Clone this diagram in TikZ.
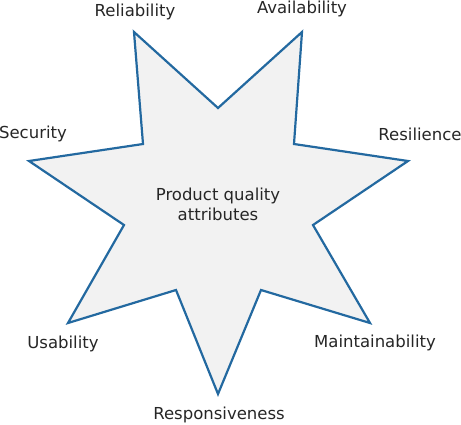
\documentclass[tikz,border=0pt]{standalone}
\usepackage{fontspec}
\setmainfont{DejaVu Sans}
\usetikzlibrary{positioning}
\definecolor{starblue}{RGB}{35,105,160}
\definecolor{stargray}{RGB}{242,242,242}
\tikzset{attr/.style={
        font=\fontsize{16.5}{20}\selectfont,
        text=black!85,
        inner sep=0pt },
    starshape/.style={
        draw=starblue,
        fill=stargray,
        line width=2.2pt,
        line join=miter } }

\begin{document}
\begin{tikzpicture}[x=1pt,y=-1pt]
\useasboundingbox (0,0) rectangle (461,424);

% tips and inner corners of the star
\coordinate (tip_rel) at (134,32);
\coordinate (in_top) at (218,108);
\coordinate (tip_ava) at (302,32);
\coordinate (in_ur) at (294,144);
\coordinate (tip_res) at (408,161);
\coordinate (in_r) at (313,225);
\coordinate (tip_mai) at (370,323);
\coordinate (in_lr) at (261,290);
\coordinate (tip_rsp) at (218,394);
\coordinate (in_ll) at (176,290);
\coordinate (tip_usa) at (68,323);
\coordinate (in_l) at (124,225);
\coordinate (tip_sec) at (29,161);
\coordinate (in_ul) at (143,144);

\draw[starshape] (tip_rel) -- (in_top) -- (tip_ava) -- (in_ur) -- (tip_res)
    -- (in_r) -- (tip_mai) -- (in_lr) -- (tip_rsp) -- (in_ll) -- (tip_usa)
    -- (in_l) -- (tip_sec) -- (in_ul) -- cycle;

\node[attr, align=center] (center) at (218,204) {Product quality\\attributes};

\node[attr] (rel) at (135,12) {Reliability};
\node[attr] (ava) at (302,9) {Availability};
\node[attr] (res) at (420,134) {Resilience};
\node[attr] (mai) at (375,343) {Maintainability};
\node[attr] (rsp) at (219,415) {Responsiveness};
\node[attr] (usa) at (63,344) {Usability};
\node[attr] (sec) at (33,134) {Security};

\end{tikzpicture}
\end{document}
